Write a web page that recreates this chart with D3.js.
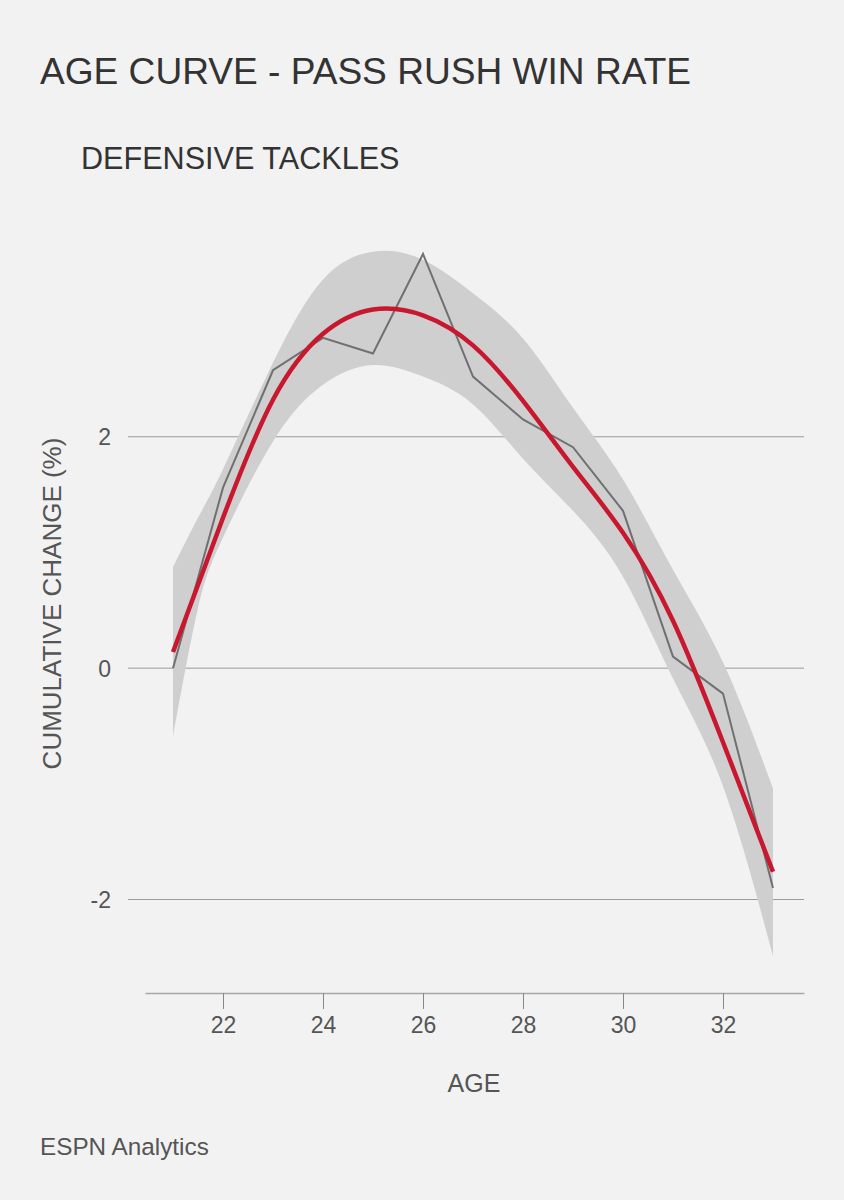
<!DOCTYPE html>
<html>
<head>
<meta charset="utf-8">
<script src="https://cdn.jsdelivr.net/npm/d3@7"></script>
<style>
  html, body { margin: 0; padding: 0; background: #f2f2f2; }
  svg { display: block; font-family: "Liberation Sans", Arial, Helvetica, sans-serif; }
</style>
</head>
<body>
<svg id="chart" width="844" height="1200"></svg>
<script>
// ---- data ----
const ages = [21, 22, 23, 24, 25, 26, 27, 28, 29, 30, 31, 32, 33];
const observed = [0, 1.56, 2.575, 2.855, 2.72, 3.58, 2.52, 2.15, 1.91, 1.36, 0.10, -0.22, -1.90];
const smoothed = [0.14, 1.30, 2.32, 2.89, 3.10, 3.05, 2.79, 2.31, 1.74, 1.17, 0.41, -0.64, -1.76];
const bandAges = [21, 21.5, 22, 23, 24, 25, 26, 27, 28, 29, 30, 31, 32, 33];
const bandUpper = [0.875, 1.30, 1.72, 2.64, 3.36, 3.60, 3.53, 3.24, 2.85, 2.25, 1.63, 0.85, 0.05, -1.04];
const bandLower = [-0.59, 0.52, 1.13, 1.96, 2.45, 2.62, 2.52, 2.28, 1.81, 1.36, 0.79, -0.09, -1.02, -2.49];
const xTicks = [22, 24, 26, 28, 30, 32];
const yTicks = [-2, 0, 2];

const title = "AGE CURVE - PASS RUSH WIN RATE";
const subtitle = "DEFENSIVE TACKLES";
const xLabel = "AGE";
const yLabel = "CUMULATIVE CHANGE (%)";
const source = "ESPN Analytics";

// ---- layout ----
const svg = d3.select("#chart");
svg.append("rect").attr("width", 844).attr("height", 1200).attr("fill", "#f2f2f2");

const x = d3.scaleLinear().domain([20.44, 33.62]).range([145, 804]);
const y = d3.scaleLinear().domain([-2.808, 4]).range([993, 205.4]);

// titles
svg.append("text").attr("x", 40).attr("y", 84)
  .attr("font-size", 37.1).attr("fill", "#333").text(title);
svg.append("text").attr("x", 81).attr("y", 169)
  .attr("font-size", 30.6).attr("fill", "#333").text(subtitle);

// gridlines
const grid = svg.append("g");
grid.selectAll("line").data(yTicks).join("line")
  .attr("x1", 128).attr("x2", 804)
  .attr("y1", d => y(d)).attr("y2", d => y(d))
  .attr("stroke", "#9a9a9a").attr("stroke-width", 1);
grid.selectAll("text").data(yTicks).join("text")
  .attr("x", 111).attr("y", d => y(d) + 8.5)
  .attr("text-anchor", "end").attr("font-size", 23).attr("fill", "#555")
  .text(d => d);

// band
const area = d3.area()
  .x((d, i) => x(bandAges[i]))
  .y0((d, i) => y(bandLower[i]))
  .y1((d, i) => y(bandUpper[i]))
  .curve(d3.curveNatural);
svg.append("path").datum(bandAges).attr("d", area).attr("fill", "#cfcfcf");

// observed line
const obsLine = d3.line().x((d, i) => x(ages[i])).y(d => y(d));
svg.append("path").datum(observed).attr("d", obsLine)
  .attr("fill", "none").attr("stroke", "#707070").attr("stroke-width", 2)
  .attr("stroke-linejoin", "miter");

// smoothed line
const smLine = d3.line().x((d, i) => x(ages[i])).y(d => y(d)).curve(d3.curveNatural);
svg.append("path").datum(smoothed).attr("d", smLine)
  .attr("fill", "none").attr("stroke", "#c8182f").attr("stroke-width", 4.5);

// x axis
const xAxis = d3.axisBottom(x).tickValues(xTicks).tickSize(16).tickSizeOuter(0).tickPadding(8);
const gx = svg.append("g").attr("transform", "translate(0,993)").call(xAxis);
gx.select(".domain").attr("stroke", "#a8a8a8").attr("stroke-width", 1.5);
gx.selectAll(".tick line").attr("stroke", "#888");
gx.selectAll(".tick text").attr("font-size", 23).attr("fill", "#555")
  .attr("font-family", "Liberation Sans, Arial, sans-serif");

svg.append("text").attr("x", 474).attr("y", 1092).attr("text-anchor", "middle")
  .attr("font-size", 25).attr("fill", "#555").text(xLabel);

svg.append("text")
  .attr("transform", "translate(61,603.5) rotate(-90)")
  .attr("text-anchor", "middle").attr("font-size", 26).attr("fill", "#555")
  .text(yLabel);

svg.append("text").attr("x", 40).attr("y", 1155)
  .attr("font-size", 24.3).attr("fill", "#555").text(source);
</script>
</body>
</html>
